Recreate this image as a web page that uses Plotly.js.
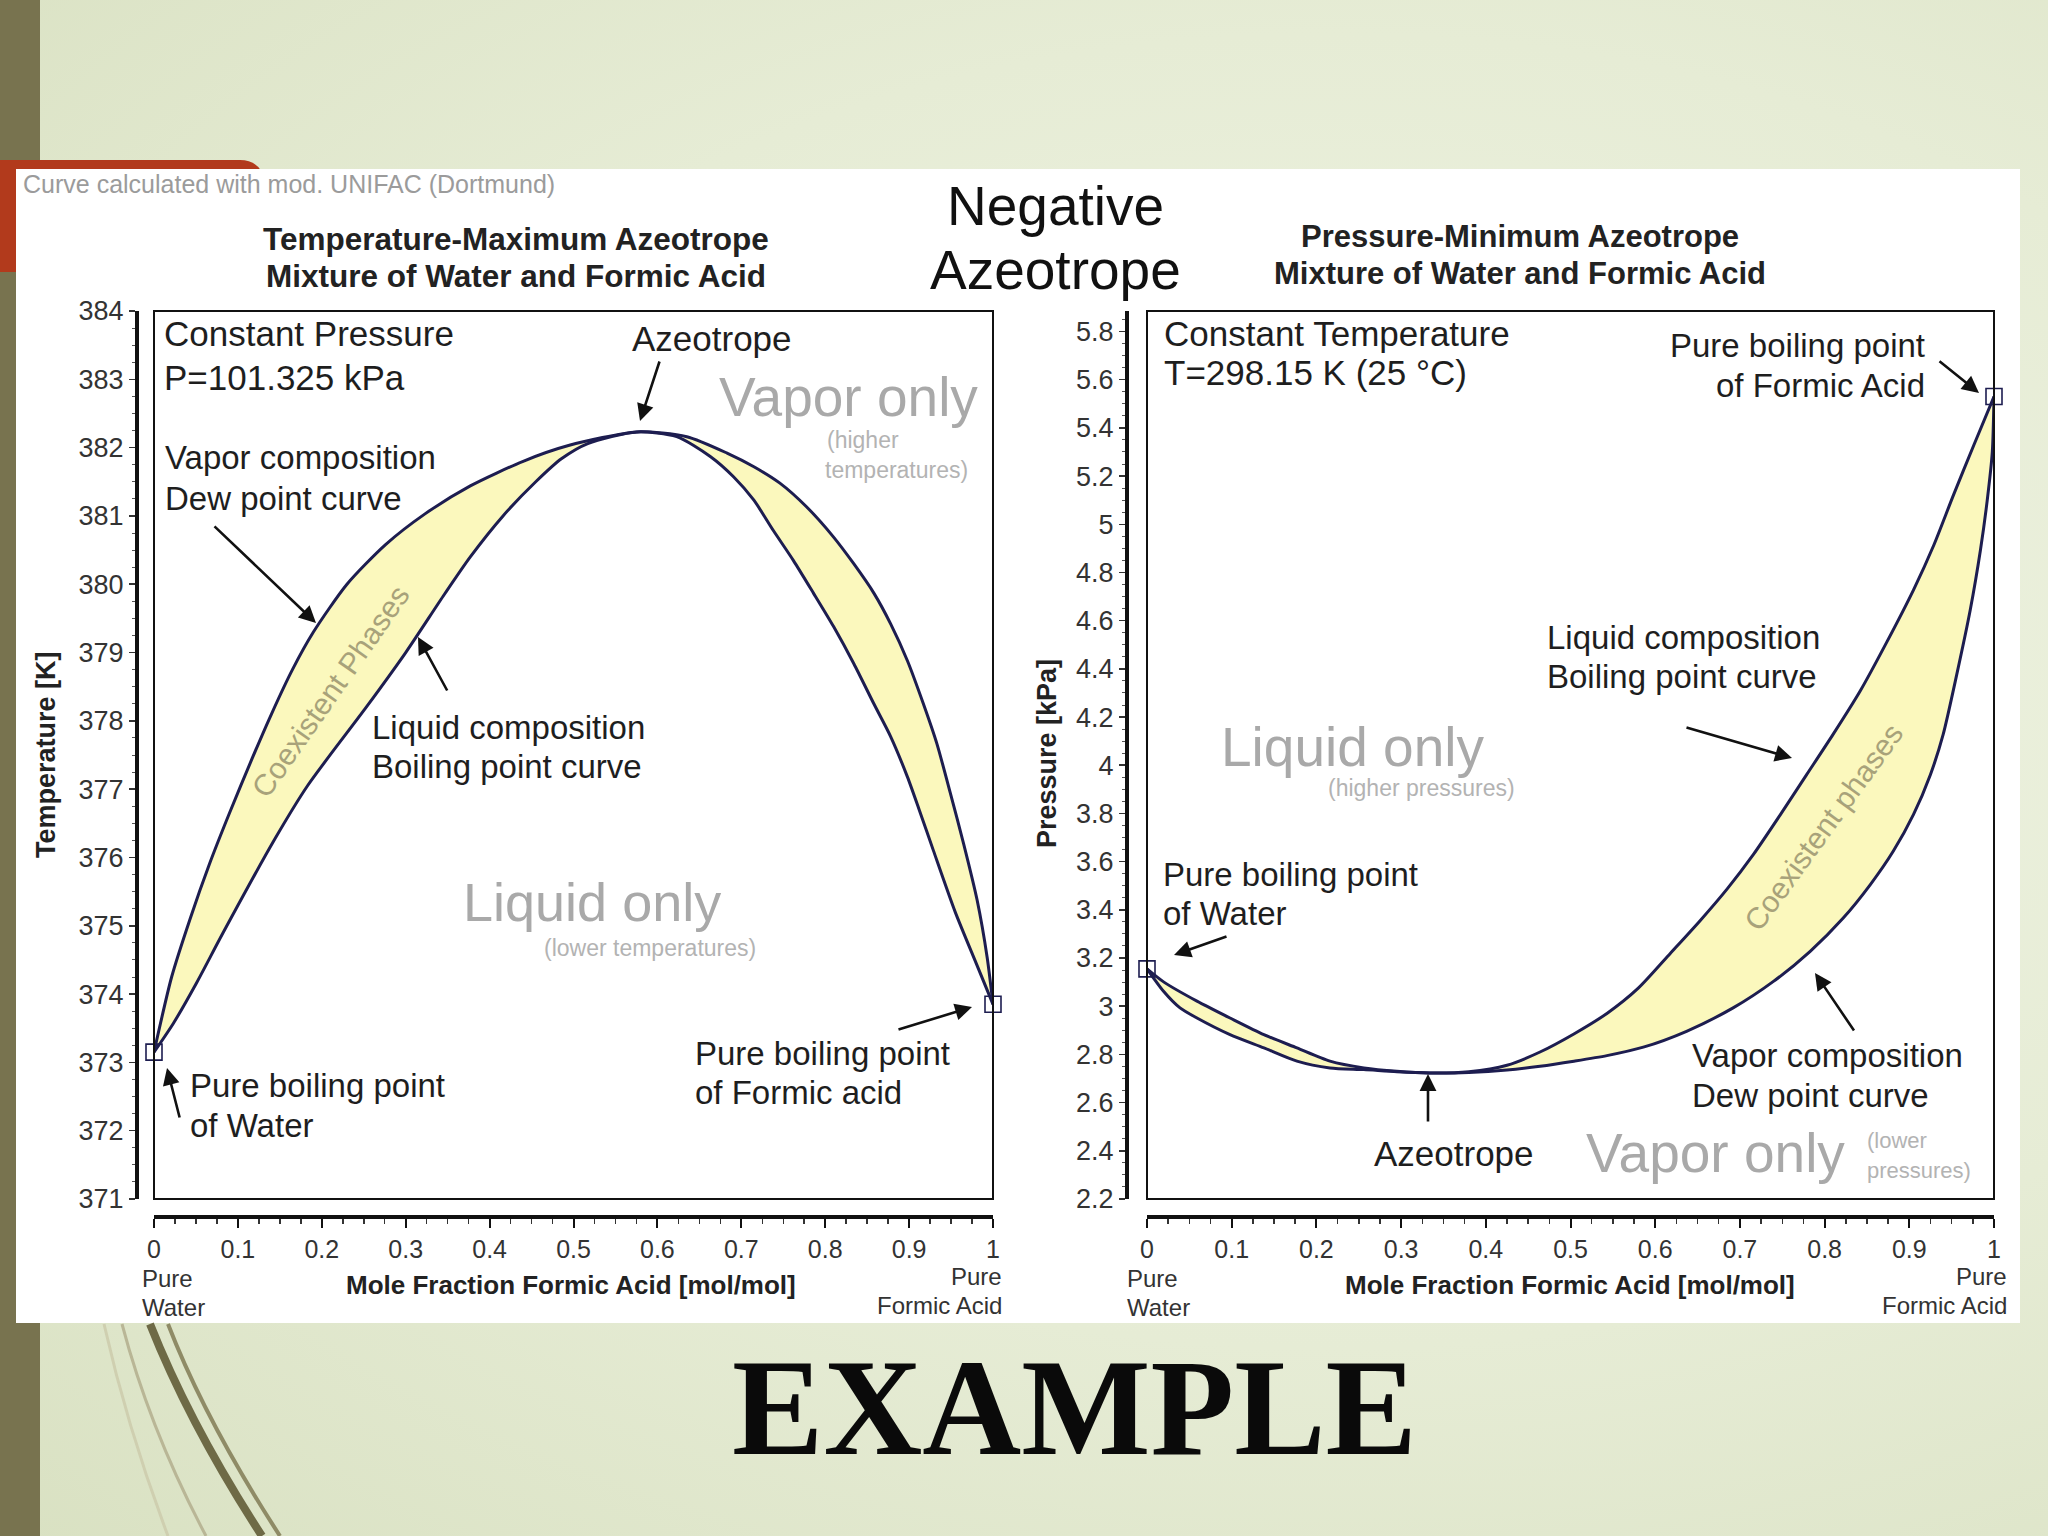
<!DOCTYPE html>
<html><head><meta charset="utf-8">
<script src="https://cdn.plot.ly/plotly-3.0.1.min.js"></script>
<style>
html,body{margin:0;padding:0;}
#chart{width:2048px;height:1536px;background:radial-gradient(ellipse at 65% 45%, #f1f5e6 0%, #e6ecd5 55%, #d9e1c2 100%);}
</style></head><body><div id="chart"></div>
<script>
// ---------- DATA ----------
// Left chart: T-x-y at constant pressure (101.325 kPa)
const txLiqX = [0, 0.023, 0.051, 0.082, 0.144, 0.183, 0.253, 0.30, 0.346, 0.377, 0.416, 0.455, 0.486, 0.517, 0.5755, 0.623, 0.663, 0.691, 0.715, 0.738, 0.762, 0.786, 0.81, 0.834, 0.858, 0.878, 0.898, 0.912, 0.929, 0.955, 0.98, 1];
const txLiqT = [373.15, 373.57, 374.17, 374.89, 376.27, 377.05, 378.2, 379.0, 379.85, 380.4, 381.0, 381.5, 381.84, 382.06, 382.23, 382.16, 381.87, 381.57, 381.23, 380.79, 380.35, 379.87, 379.38, 378.84, 378.25, 377.77, 377.18, 376.7, 376.1, 375.2, 374.45, 373.85];
const txVapX = [0, 0.021, 0.043, 0.066, 0.09, 0.117, 0.14, 0.165, 0.19, 0.23, 0.276, 0.323, 0.377, 0.44, 0.494, 0.5755, 0.635, 0.683, 0.715, 0.746, 0.778, 0.81, 0.834, 0.858, 0.878, 0.898, 0.917, 0.933, 0.949, 0.965, 0.981, 0.993, 1];
const txVapT = [373.15, 374.25, 375.1, 375.9, 376.65, 377.45, 378.1, 378.75, 379.3, 380.0, 380.58, 381.03, 381.44, 381.8, 382.03, 382.23, 382.16, 381.92, 381.72, 381.48, 381.13, 380.69, 380.3, 379.87, 379.42, 378.88, 378.25, 377.67, 376.95, 376.2, 375.38, 374.54, 373.85];

// Right chart: P-x-y at constant temperature (298.15 K)
const pxLiqX = [0, 0.02, 0.059, 0.098, 0.138, 0.177, 0.216, 0.256, 0.295, 0.334, 0.38, 0.425, 0.464, 0.504, 0.543, 0.58, 0.618, 0.653, 0.685, 0.716, 0.748, 0.779, 0.81, 0.842, 0.874, 0.905, 0.929, 0.952, 0.976, 1];
const pxLiqP = [3.155, 3.10, 3.021, 2.951, 2.882, 2.827, 2.772, 2.744, 2.730, 2.723, 2.728, 2.755, 2.81, 2.885, 2.97, 3.075, 3.22, 3.355, 3.487, 3.630, 3.796, 3.962, 4.128, 4.308, 4.515, 4.728, 4.914, 5.120, 5.327, 5.53];
const pxVapX = [0, 0.0195, 0.039, 0.059, 0.098, 0.138, 0.177, 0.216, 0.256, 0.295, 0.334, 0.38, 0.425, 0.464, 0.504, 0.543, 0.586, 0.637, 0.692, 0.740, 0.783, 0.822, 0.854, 0.881, 0.905, 0.925, 0.940, 0.956, 0.972, 0.984, 0.992, 0.998, 1];
const pxVapP = [3.155, 3.062, 2.993, 2.951, 2.882, 2.827, 2.772, 2.744, 2.737, 2.728, 2.723, 2.725, 2.735, 2.751, 2.772, 2.795, 2.830, 2.896, 2.993, 3.104, 3.228, 3.366, 3.505, 3.643, 3.796, 3.962, 4.128, 4.376, 4.645, 4.893, 5.099, 5.30, 5.53];

const xTickVals = [0, 0.1, 0.2, 0.3, 0.4, 0.5, 0.6, 0.7, 0.8, 0.9, 1];
const xTickText = ['0', '0.1', '0.2', '0.3', '0.4', '0.5', '0.6', '0.7', '0.8', '0.9', '1'];
const tempRange = [371, 384];
const pressRange = [2.2, 5.885];

// ---------- HELPERS ----------
const W = 2048, H = 1536;
const px = v => v / W, py = v => 1 - v / H;
const FONT = 'Liberation Sans, Arial, Helvetica, sans-serif';
const CURVE = '#1d1d50', FILL = '#fbf8bd', INK = '#1e1e1e', GREY = '#a9a9a9', GREY2 = '#b3b3b3', COEX = '#a8a27a';

const annotations = [];
function txt(t, x, y, size, o) {
  o = o || {};
  annotations.push({
    text: t, x: px(x), y: py(y), xref: 'paper', yref: 'paper', showarrow: false,
    xanchor: o.xa || 'left', yanchor: 'middle', textangle: o.angle || 0,
    font: {family: o.family || FONT, size: size, color: o.color || INK, weight: o.bold ? 'bold' : 'normal'}
  });
}
function arrow(hx, hy, tx, ty) {
  annotations.push({
    text: '', x: px(hx), y: py(hy), xref: 'paper', yref: 'paper', showarrow: true,
    ax: tx - hx, ay: ty - hy, axref: 'pixel', ayref: 'pixel',
    arrowhead: 2, arrowsize: 1.3, arrowwidth: 2.6, arrowcolor: '#111', standoff: 0
  });
}

// ---------- TEXT ----------
txt('Curve calculated with mod. UNIFAC (Dortmund)', 21, 184, 25, {color: '#9b9b9b'});
txt('Temperature-Maximum Azeotrope', 516, 239, 31.5, {xa: 'center', bold: true, color: '#222'});
txt('Mixture of Water and Formic Acid', 516, 276, 31.5, {xa: 'center', bold: true, color: '#222'});
txt('Negative', 1055, 206, 55, {xa: 'center', color: '#111'});
txt('Azeotrope', 1055, 270, 55, {xa: 'center', color: '#111'});
txt('Pressure-Minimum Azeotrope', 1520, 236, 31, {xa: 'center', bold: true, color: '#222'});
txt('Mixture of Water and Formic Acid', 1520, 273, 31, {xa: 'center', bold: true, color: '#222'});

// left chart
txt('Constant Pressure', 162, 333, 35);
txt('P=101.325 kPa', 162, 377, 35);
txt('Azeotrope', 712, 338, 35, {xa: 'center'});
txt('Vapor only', 980, 397, 55, {xa: 'right', color: GREY});
txt('(higher', 825, 440, 23, {color: GREY2});
txt('temperatures)', 823, 470, 23, {color: GREY2});
txt('Vapor composition', 163, 458, 33);
txt('Dew point curve', 163, 498, 33);
txt('Coexistent Phases', 330, 691, 30, {xa: 'center', angle: -55, color: COEX});
txt('Liquid composition', 370, 727, 33);
txt('Boiling point curve', 370, 767, 33);
txt('Liquid only', 592, 902, 54, {xa: 'center', color: GREY});
txt('(lower temperatures)', 650, 948, 23, {xa: 'center', color: GREY2});
txt('Pure boiling point', 188, 1085, 33);
txt('of Water', 188, 1125, 33);
txt('Pure boiling point', 693, 1053, 33);
txt('of Formic acid', 693, 1092, 33);
txt('Pure', 140, 1278, 24, {color: '#333'});
txt('Water', 140, 1307, 24, {color: '#333'});
txt('Pure', 1004, 1276, 24, {xa: 'right', color: '#333'});
txt('Formic Acid', 1004, 1305, 24, {xa: 'right', color: '#333'});
txt('Mole Fraction Formic Acid [mol/mol]', 571, 1285, 26, {xa: 'center', bold: true, color: '#222'});
txt('Temperature [K]', 46, 755, 27, {xa: 'center', angle: -90, bold: true, color: '#222'});
arrow(640, 421, 660, 360);
arrow(316, 623, 213, 525);
arrow(418, 637, 448, 692);
arrow(167, 1068, 180, 1119);
arrow(972, 1007, 897, 1030);

// right chart
txt('Constant Temperature', 1162, 333, 35);
txt('T=298.15 K (25 °C)', 1162, 372, 35);
txt('Pure boiling point', 1927, 346, 33, {xa: 'right'});
txt('of Formic Acid', 1927, 385, 33, {xa: 'right'});
txt('Liquid composition', 1545, 637, 33);
txt('Boiling point curve', 1545, 677, 33);
txt('Liquid only', 1352, 747, 55, {xa: 'center', color: GREY});
txt('(higher pressures)', 1421, 788, 23, {xa: 'center', color: GREY2});
txt('Coexistent phases', 1823, 827, 30, {xa: 'center', angle: -54, color: COEX});
txt('Pure boiling point', 1161, 874, 33);
txt('of Water', 1161, 913, 33);
txt('Vapor composition', 1690, 1055, 33);
txt('Dew point curve', 1690, 1095, 33);
txt('Azeotrope', 1454, 1153, 35, {xa: 'center'});
txt('Vapor only', 1584, 1153, 55, {color: GREY});
txt('(lower', 1865, 1140, 22, {color: GREY2});
txt('pressures)', 1865, 1170, 22, {color: GREY2});
txt('Pure', 1125, 1278, 24, {color: '#333'});
txt('Water', 1125, 1307, 24, {color: '#333'});
txt('Pure', 2009, 1276, 24, {xa: 'right', color: '#333'});
txt('Formic Acid', 2009, 1305, 24, {xa: 'right', color: '#333'});
txt('Mole Fraction Formic Acid [mol/mol]', 1570, 1285, 26, {xa: 'center', bold: true, color: '#222'});
txt('Pressure [kPa]', 1047, 754, 27, {xa: 'center', angle: -90, bold: true, color: '#222'});
arrow(1979, 393, 1938, 360);
arrow(1792, 758, 1685, 727);
arrow(1174, 955, 1228, 936);
arrow(1815, 973, 1855, 1032);
arrow(1428, 1074, 1428, 1123);

// slide caption
txt('EXAMPLE', 1074, 1408, 137, {xa: 'center', bold: true, color: '#0a0a0a', family: 'Liberation Serif, Times New Roman, serif'});

// ---------- TRACES ----------
function band(xa, ya, xb, yb, xax, yax) {
  return {x: xa.concat(xb.slice().reverse()), y: ya.concat(yb.slice().reverse()),
    xaxis: xax, yaxis: yax, mode: 'lines', fill: 'toself', fillcolor: FILL,
    line: {width: 0, color: 'rgba(0,0,0,0)', shape: 'spline', smoothing: 0.7}, hoverinfo: 'skip'};
}
function curve(x, y, xax, yax) {
  return {x: x, y: y, xaxis: xax, yaxis: yax, mode: 'lines',
    line: {color: CURVE, width: 3, shape: 'spline', smoothing: 0.7}};
}
function ends(x, y, xax, yax) {
  return {x: [x[0], x[x.length - 1]], y: [y[0], y[y.length - 1]], xaxis: xax, yaxis: yax,
    mode: 'markers', cliponaxis: false,
    marker: {symbol: 'square-open', size: 16, color: CURVE, line: {width: 1.6, color: CURVE}}};
}
const data = [
  band(txVapX, txVapT, txLiqX, txLiqT, 'x', 'y'),
  curve(txVapX, txVapT, 'x', 'y'),
  curve(txLiqX, txLiqT, 'x', 'y'),
  ends(txLiqX, txLiqT, 'x', 'y'),
  band(pxLiqX, pxLiqP, pxVapX, pxVapP, 'x2', 'y2'),
  curve(pxVapX, pxVapP, 'x2', 'y2'),
  curve(pxLiqX, pxLiqP, 'x2', 'y2'),
  ends(pxLiqX, pxLiqP, 'x2', 'y2')
];

// ---------- AXES ----------
const yDom = [py(1199), py(311)];
function xAxis(dom) {
  return {domain: dom, range: [0, 1], anchor: 'free', position: py(1217),
    showline: true, linewidth: 4, linecolor: '#111', mirror: false,
    ticks: 'outside', ticklen: 9, tickwidth: 2, tickcolor: '#111',
    tickvals: xTickVals, ticktext: xTickText,
    minor: {dtick: 0.025, tick0: 0, ticks: 'outside', ticklen: 5, tickwidth: 1.5, tickcolor: '#333'},
    showgrid: false, zeroline: false, ticklabelstandoff: 0,
    tickfont: {family: FONT, size: 25, color: '#333'}, fixedrange: true};
}
function yAxis(range, dtick, minorD, pos) {
  return {domain: yDom, range: range, anchor: 'free', position: pos,
    showline: true, linewidth: 3.5, linecolor: '#111',
    ticks: 'outside', ticklen: 6, tickwidth: 1.5, tickcolor: '#333', dtick: dtick, tick0: range[0],
    minor: {dtick: minorD, ticks: 'outside', ticklen: 3, tickwidth: 1, tickcolor: '#555'},
    showgrid: false, zeroline: false,
    tickfont: {family: FONT, size: 27, color: '#333'}, fixedrange: true};
}

const shapes = [
  {type: 'rect', xref: 'paper', yref: 'paper', x0: 0, x1: px(40), y0: 0, y1: 1, fillcolor: '#78734f', line: {width: 0}, layer: 'below'},
  {type: 'path', xref: 'paper', yref: 'paper', layer: 'below', line: {width: 0}, fillcolor: '#b23a1c',
    path: `M 0 ${py(160)} L ${px(240)} ${py(160)} Q ${px(255)} ${py(160)} ${px(262)} ${py(172)} L ${px(262)} ${py(272)} L 0 ${py(272)} Z`},
  {type: 'rect', xref: 'paper', yref: 'paper', x0: px(16), x1: px(2020), y0: py(1323), y1: py(169), fillcolor: '#ffffff', line: {width: 0}, layer: 'below'},
  {type: 'path', xref: 'paper', yref: 'paper', layer: 'below', line: {color: '#cfcfb0', width: 3},
    path: `M ${px(104)} ${py(1324)} Q ${px(128)} ${py(1430)} ${px(168)} ${py(1536)}`},
  {type: 'path', xref: 'paper', yref: 'paper', layer: 'below', line: {color: '#b9b696', width: 3},
    path: `M ${px(122)} ${py(1324)} Q ${px(150)} ${py(1430)} ${px(206)} ${py(1536)}`},
  {type: 'path', xref: 'paper', yref: 'paper', layer: 'below', line: {color: '#6e6a46', width: 8},
    path: `M ${px(150)} ${py(1324)} Q ${px(190)} ${py(1425)} ${px(262)} ${py(1536)}`},
  {type: 'path', xref: 'paper', yref: 'paper', layer: 'below', line: {color: '#8f8b66', width: 4},
    path: `M ${px(168)} ${py(1324)} Q ${px(205)} ${py(1420)} ${px(280)} ${py(1536)}`},
  {type: 'rect', xref: 'x domain', yref: 'y domain', x0: 0, x1: 1, y0: 0, y1: 1, line: {color: '#111', width: 2}},
  {type: 'rect', xref: 'x2 domain', yref: 'y2 domain', x0: 0, x1: 1, y0: 0, y1: 1, line: {color: '#111', width: 2}}
];

const layout = {
  width: W, height: H, margin: {l: 0, r: 0, t: 0, b: 0},
  paper_bgcolor: 'rgba(0,0,0,0)', plot_bgcolor: 'rgba(0,0,0,0)',
  showlegend: false, hovermode: false,
  xaxis: xAxis([px(154), px(993)]),
  yaxis: yAxis(tempRange, 1, 0.25, px(136)),
  xaxis2: xAxis([px(1147), px(1994)]),
  yaxis2: yAxis(pressRange, 0.2, 0.05, px(1126)),
  shapes: shapes, annotations: annotations
};
layout.yaxis2.tick0 = 2.2;

Plotly.newPlot('chart', data, layout, {staticPlot: true, displayModeBar: false});
</script></body></html>
